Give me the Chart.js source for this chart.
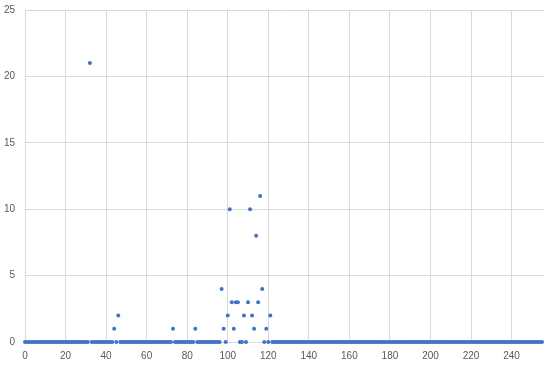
<!DOCTYPE html>
<html>
<head>
<meta charset="utf-8">
<script src="https://cdn.jsdelivr.net/npm/chart.js@4/dist/chart.umd.min.js"></script>
<style>
  html, body { margin: 0; padding: 0; background: #ffffff; }
  #wrap { width: 550px; height: 367px; }
</style>
</head>
<body>
<div id="wrap"><canvas id="c" width="550" height="367"></canvas></div>
<script>
// Character codes 0..255 (x) and their counts (y)
const counts = [
  0,0,0,0,0,0,0,0,0,0,0,0,0,0,0,0,        // 0-15
  0,0,0,0,0,0,0,0,0,0,0,0,0,0,0,0,        // 16-31
  21,0,0,0,0,0,0,0,0,0,0,0,1,0,2,0,       // 32-47
  0,0,0,0,0,0,0,0,0,0,0,0,0,0,0,0,        // 48-63
  0,0,0,0,0,0,0,0,0,1,0,0,0,0,0,0,        // 64-79
  0,0,0,0,1,0,0,0,0,0,0,0,0,0,0,0,        // 80-95
  0,4,1,0,2,10,3,1,3,3,0,0,2,0,3,10,      // 96-111
  2,1,8,3,11,4,0,1,0,2,0,0,0,0,0,0,       // 112-127
  0,0,0,0,0,0,0,0,0,0,0,0,0,0,0,0,        // 128-143
  0,0,0,0,0,0,0,0,0,0,0,0,0,0,0,0,        // 144-159
  0,0,0,0,0,0,0,0,0,0,0,0,0,0,0,0,        // 160-175
  0,0,0,0,0,0,0,0,0,0,0,0,0,0,0,0,        // 176-191
  0,0,0,0,0,0,0,0,0,0,0,0,0,0,0,0,        // 192-207
  0,0,0,0,0,0,0,0,0,0,0,0,0,0,0,0,        // 208-223
  0,0,0,0,0,0,0,0,0,0,0,0,0,0,0,0,        // 224-239
  0,0,0,0,0,0,0,0,0,0,0,0,0,0,0,0         // 240-255
];
const xTickLabels = [0,20,40,60,80,100,120,140,160,180,200,220,240];
const yTickLabels = [0,5,10,15,20,25];

const points = counts.map((v, i) => ({ x: i, y: v }));

const gridColor = '#d9d9d9';
const textColor = '#595959';
const font = { family: "'Liberation Sans', Arial, sans-serif", size: 10 };

new Chart(document.getElementById('c'), {
  type: 'scatter',
  data: {
    datasets: [{
      data: points,
      backgroundColor: '#4472C4',
      borderWidth: 0,
      pointRadius: 2,
      pointHoverRadius: 2,
      clip: false
    }]
  },
  options: {
    responsive: false,
    animation: false,
    devicePixelRatio: 1,
    layout: { padding: { left: 0, right: 6, top: 10, bottom: 0 } },
    plugins: { legend: { display: false }, tooltip: { enabled: false } },
    scales: {
      x: {
        type: 'linear',
        min: 0,
        max: 256,
        afterBuildTicks: (s) => { s.ticks = xTickLabels.map(v => ({ value: v })); },
        afterFit: (s) => { s.height = 25; s.paddingLeft = 0; s.paddingRight = 0; },
        grid: { color: gridColor, lineWidth: 1, drawTicks: false },
        border: { display: false },
        ticks: { color: textColor, font: font, padding: 8, maxRotation: 0, autoSkip: false }
      },
      y: {
        type: 'linear',
        min: 0,
        max: 25,
        afterBuildTicks: (s) => { s.ticks = yTickLabels.map(v => ({ value: v })); },
        afterFit: (s) => { s.width = 25; s.paddingTop = 0; s.paddingBottom = 0; },
        grid: { color: gridColor, lineWidth: 1, drawTicks: false },
        border: { display: false },
        ticks: { color: textColor, font: font, padding: 10 }
      }
    }
  }
});
</script>
</body>
</html>
